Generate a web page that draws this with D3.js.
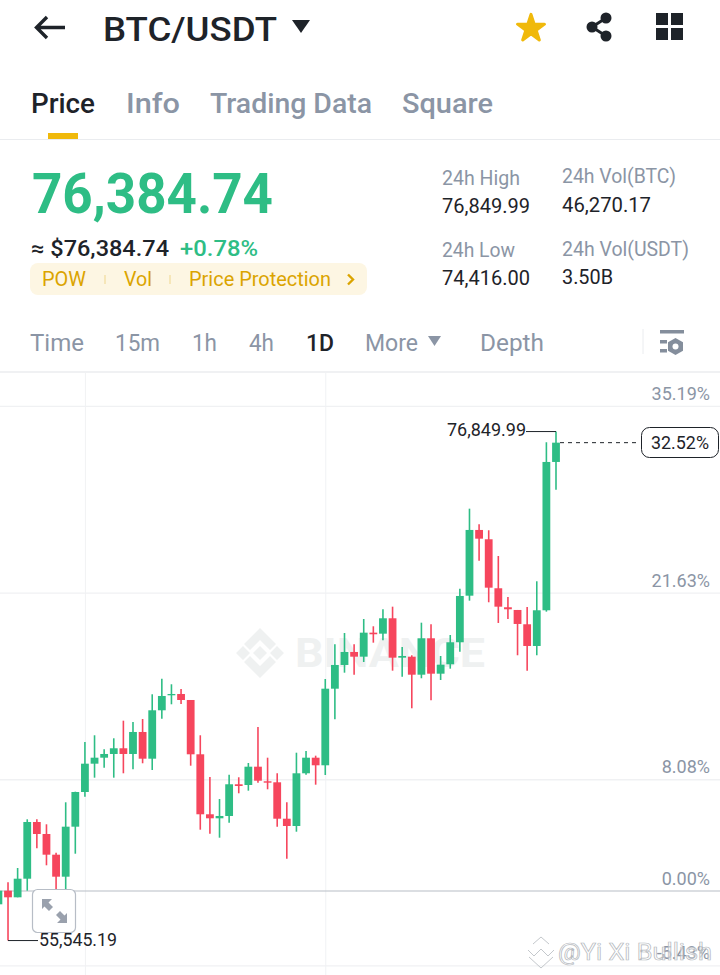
<!DOCTYPE html>
<html>
<head>
<meta charset="utf-8">
<script src="https://cdn.jsdelivr.net/npm/d3@7"></script>
<style>
  html, body { margin: 0; padding: 0; background: #fff; overflow: hidden; }
  svg { display: block; font-family: Roboto, "Noto Sans", sans-serif; }
</style>
</head>
<body>
<svg id="chart" width="720" height="975"></svg>
<script>
// --- DATA ---
const basePrice = 57640;
const lowLabel = 55545.19;
const highLabel = 76849.99;
const lastPrice = 76384.74;
const pctTicks = [35.19, 21.63, 8.08, 0, -5.43];
const gridCandles = [9, 34];

const opens = [57062, 57632, 57355, 58134, 60507, 60005, 59139, 58218, 60311, 61763,
  62948, 63199, 63354, 63593, 63354, 64275, 63157, 65183, 65811, 65865,
  65614, 63341, 60830, 60662, 60759, 62086, 62056, 62822, 62211, 62169,
  60645, 60340, 62546, 63199, 62881, 66087, 67080, 67624, 67427, 68432,
  68390, 69034, 67385, 67427, 66673, 68197, 66715, 67109, 68030, 69980,
  72731, 72341, 70290, 69495, 69382, 68783, 67875, 69369, 75577];
const highs = [57660, 57983, 58582, 60620, 60620, 60411, 59222, 61332, 61776, 63856,
  64137, 63551, 64011, 64748, 64693, 64819, 65853, 66506, 66272, 66075,
  65614, 64137, 62391, 61470, 62487, 62379, 62977, 64484, 63199, 62546,
  61332, 63408, 63479, 63283, 66493, 67946, 68419, 67946, 69005, 68699,
  69411, 69520, 67833, 67486, 68850, 68783, 67456, 68335, 70273, 73622,
  72969, 72718, 71642, 69926, 69382, 69507, 70583, 76402, 76849.99];
const lows = [57040, 55545.19, 57355, 57632, 59406, 58695, 57660, 57660, 59180, 61567,
  62362, 62780, 62362, 62546, 62713, 62965, 62684, 64832, 65434, 65447,
  62864, 60185, 60018, 59850, 60478, 61709, 61818, 62153, 61876, 60311,
  58971, 60101, 62487, 62069, 62475, 64806, 66757, 66673, 67205, 68013,
  68113, 66841, 66590, 65267, 66523, 65602, 66451, 66925, 67636, 69771,
  71446, 69704, 68838, 69005, 67486, 66841, 67486, 69311, 74416];
const closes = [57632, 57355, 58134, 60507, 60005, 59139, 58218, 60311, 61763, 62948,
  63199, 63354, 63593, 63354, 64275, 63157, 65183, 65782, 65865, 65614,
  63341, 60830, 60662, 60759, 62086, 62014, 62822, 62236, 62153, 60645,
  60340, 62546, 63199, 62881, 66087, 67080, 67624, 67427, 68432, 68365,
  69034, 67385, 67456, 66673, 68197, 66715, 67092, 68030, 69968, 72731,
  72366, 70315, 69520, 69411, 68796, 67875, 69369, 75577, lastPrice];

const GREEN = "#2ebd85";
const RED = "#f6465d";
const DARK = "#1e2329";
const GREY = "#8b95a5";
const GOLD = "#dba400";

const svg = d3.select("#chart");

function label(str, x, y, size, fill, width, weight, anchor) {
  const t = svg.append("text")
    .attr("x", x).attr("y", y)
    .attr("font-size", size).attr("fill", fill)
    .attr("font-weight", weight || 400)
    .attr("text-anchor", anchor || "start")
    .text(str);
  if (width) t.attr("textLength", width).attr("lengthAdjust", "spacingAndGlyphs");
  return t;
}

// --- CHART ---
const x = d3.scaleLinear().domain([0, opens.length - 1]).range([-1.6, 556]);
const y = d3.scaleLinear().domain([0, 35.19]).range([890.5, 405.9]);
const toPct = p => (p / basePrice - 1) * 100;
const yPrice = p => y(toPct(p));

// grid
svg.append("g")
  .attr("transform", "translate(0,975)")
  .call(d3.axisBottom(x).tickValues(gridCandles).tickSize(-602).tickFormat(""))
  .call(g => g.select(".domain").remove())
  .call(g => g.selectAll("line").attr("stroke", "#f1f2f4").attr("stroke-width", 1));

svg.append("g")
  .call(d3.axisRight(y).tickValues(pctTicks).tickSize(720).tickFormat(d => d.toFixed(2) + "%"))
  .call(g => g.select(".domain").remove())
  .call(g => g.selectAll("line")
    .attr("stroke", d => d === 0 ? "#b7bdc6" : "#f0f1f3")
    .attr("stroke-width", d => d === 0 ? 1.2 : 1.3))
  .call(g => g.selectAll("text")
    .attr("x", 710).attr("dy", -6.5)
    .attr("text-anchor", "end")
    .attr("fill", GREY)
    .attr("font-size", 18)
    .attr("font-family", 'Roboto, "Noto Sans", sans-serif'));

// watermark
const wm = svg.append("g").attr("fill", "#eff1f1").attr("transform", "translate(260,653)");
const logo = d3.line();
const pieces = [
  [[0, -7], [7, 0], [0, 7], [-7, 0]],
  [[-17, 0], [-24, 0], [-17, -7], [-10, 0], [-17, 7], [-24, 0]],
  [[17, 0], [24, 0], [17, -7], [10, 0], [17, 7], [24, 0]],
  [[0, -25], [16, -9], [10, -3], [0, -13], [-10, -3], [-16, -9]],
  [[0, 25], [16, 9], [10, 3], [0, 13], [-10, 3], [-16, 9]]
];
wm.selectAll("path").data(pieces).join("path").attr("d", d => logo(d) + "Z");
label("BINANCE", 295, 667, 40, "#eff1f1", 190, 700);

// candles
const candles = svg.append("g");
const idx = d3.range(opens.length);
candles.selectAll("line").data(idx).join("line")
  .attr("x1", i => x(i)).attr("x2", i => x(i))
  .attr("y1", i => yPrice(highs[i])).attr("y2", i => yPrice(lows[i]))
  .attr("stroke", i => closes[i] >= opens[i] ? GREEN : RED)
  .attr("stroke-width", 1.6);
candles.selectAll("rect").data(idx).join("rect")
  .attr("x", i => x(i) - 3.9).attr("width", 7.8)
  .attr("y", i => Math.min(yPrice(opens[i]), yPrice(closes[i])))
  .attr("height", i => Math.max(1.3, Math.abs(yPrice(opens[i]) - yPrice(closes[i]))))
  .attr("fill", i => closes[i] >= opens[i] ? GREEN : RED);

// high / low / last markers
const last = opens.length - 1;
svg.append("path").attr("fill", "none").attr("stroke", DARK).attr("stroke-width", 1)
  .attr("d", `M${x(last)},${yPrice(highLabel)}H526`);
svg.append("path").attr("fill", "none").attr("stroke", DARK).attr("stroke-width", 1)
  .attr("d", `M${x(1)},${yPrice(lowLabel)}H38`);
label(d3.format(",.2f")(highLabel), 447, 435.5, 18, DARK, 79);
label(d3.format(",.2f")(lowLabel), 39, 946, 18, DARK, 78);

svg.append("line").attr("x1", 560).attr("x2", 640)
  .attr("y1", yPrice(lastPrice)).attr("y2", yPrice(lastPrice))
  .attr("stroke", DARK).attr("stroke-dasharray", "4 4");
svg.append("rect").attr("x", 641.5).attr("y", 427.5).attr("width", 77).attr("height", 30).attr("rx", 8)
  .attr("fill", "#fff").attr("stroke", DARK);
label(toPct(lastPrice).toFixed(2) + "%", 680, 449, 18, DARK, 58, 400, "middle");

// expand button
const btn = svg.append("g");
btn.append("rect").attr("x", 32.5).attr("y", 889.5).attr("width", 43).attr("height", 43).attr("rx", 5)
  .attr("fill", "#fff").attr("stroke", "#b7bdc6").attr("stroke-width", 1.2);
btn.append("path").attr("fill", "#9aa1ad")
  .attr("d", "M42,899H52L48.5,902.5L53,907L49,911L44.5,906.5L42,909ZM67,923H57L60.5,919.5L56,915L60,911L64.5,915.5L67,913Z");

// --- HEADER ---
svg.append("path").attr("fill", "none").attr("stroke", DARK).attr("stroke-width", 3.4)
  .attr("d", "M65,27.5H38M47,17L36.5,27.5L47,38");
label("BTC/USDT", 103, 41, 33, DARK, 174, 500);
svg.append("path").attr("fill", DARK).attr("d", "M292,20H310L301,33Z");

svg.append("path").attr("d", d3.symbol().type(d3.symbolStar).size(225)())
  .attr("transform", "translate(531,28.5)")
  .attr("fill", "#f0b90b").attr("stroke", "#f0b90b").attr("stroke-width", 3).attr("stroke-linejoin", "round");

const share = svg.append("g").attr("fill", DARK).attr("stroke", DARK);
share.append("path").attr("fill", "none").attr("stroke-width", 3).attr("d", "M606,18L592,27L606,36");
[[606, 18], [592, 27], [606, 36]].forEach(c => share.append("circle").attr("cx", c[0]).attr("cy", c[1]).attr("r", 5.5).attr("stroke", "none"));

[[656, 13], [671, 13], [656, 28], [671, 28]].forEach(c => {
  svg.append("rect").attr("x", c[0]).attr("y", c[1]).attr("width", 12).attr("height", 12).attr("fill", DARK);
});

label("Price", 31, 113, 28, DARK, 64, 500);
label("Info", 126, 113, 28, GREY, 54, 500);
label("Trading Data", 210, 113, 28, GREY, 162, 500);
label("Square", 402, 113, 28, GREY, 91, 500);
svg.append("rect").attr("x", 48).attr("y", 133).attr("width", 30).attr("height", 6).attr("fill", "#f0b90b");
svg.append("line").attr("x1", 0).attr("x2", 720).attr("y1", 139.5).attr("y2", 139.5).attr("stroke", "#eaecef");

// price block
label("76,384.74", 32, 213, 55, GREEN, 241, 700);
label("≈ $76,384.74", 31, 256, 22, DARK, 138, 500);
label("+0.78%", 180, 256, 22, GREEN, 78, 500);
svg.append("rect").attr("x", 30).attr("y", 263).attr("width", 337).attr("height", 32).attr("rx", 8).attr("fill", "#fdf6e3");
label("POW", 42, 286, 20, GOLD, 44);
label("Vol", 124, 286, 20, GOLD, 28);
label("Price Protection", 189, 286, 20, GOLD, 142);
svg.append("path").attr("fill", "none").attr("stroke", GOLD).attr("stroke-width", 2.4)
  .attr("d", "M348,274.5L353,279.5L348,284.5");
[105, 170].forEach(px => svg.append("line").attr("x1", px).attr("x2", px).attr("y1", 275).attr("y2", 284)
  .attr("stroke", "#f6e6b8").attr("stroke-width", 2));

label("24h High", 442, 185, 20, GREY, 78);
label("76,849.99", 442, 213, 20, DARK, 88);
label("24h Low", 442, 257, 20, GREY, 73);
label("74,416.00", 442, 285, 20, DARK, 88);
label("24h Vol(BTC)", 562, 183, 20, GREY, 114);
label("46,270.17", 562, 212, 20, DARK, 89);
label("24h Vol(USDT)", 562, 256, 20, GREY, 127);
label("3.50B", 562, 284, 20, DARK, 51);

// timeframes
label("Time", 30, 351, 24, GREY, 54);
label("15m", 115, 351, 24, GREY, 45);
label("1h", 192, 351, 24, GREY, 25);
label("4h", 249, 351, 24, GREY, 25);
label("1D", 306, 351, 24, DARK, 28, 500);
label("More", 365, 351, 24, GREY, 53);
svg.append("path").attr("fill", GREY).attr("d", "M428,336H441L434.5,346Z");
label("Depth", 480, 351, 24, GREY, 64);
svg.append("line").attr("x1", 643).attr("x2", 643).attr("y1", 329).attr("y2", 354).attr("stroke", "#eaecef");
const gear = svg.append("g").attr("fill", "#848e9c");
gear.append("rect").attr("x", 660).attr("y", 330).attr("width", 24).attr("height", 3.5);
gear.append("rect").attr("x", 660).attr("y", 340).attr("width", 7).attr("height", 3.5);
gear.append("rect").attr("x", 660).attr("y", 349).attr("width", 7).attr("height", 3.5);
gear.append("path").attr("d", "M675.5,338L683,342.2V350.8L675.5,355L668,350.8V342.2Z");
gear.append("circle").attr("cx", 675.5).attr("cy", 346.5).attr("r", 3).attr("fill", "#fff");
svg.append("line").attr("x1", 0).attr("x2", 720).attr("y1", 372).attr("y2", 372).attr("stroke", "#f0f1f3").attr("stroke-width", 2);

// repost watermark, sits on top of the axis label
const mark = svg.append("g").attr("fill", "none").attr("stroke", "#c4c8cc").attr("stroke-width", 1);
mark.append("path").attr("d", "M528,950L534,956L541,949L548,956L554,950M533,944L541,937L549,944M529,957L541,968L553,957");
label("@Yi Xi Bullish", 558, 960, 23, "#ffffff", 154, 400)
  .attr("stroke", "#b4b8bd").attr("stroke-width", 0.7).attr("fill-opacity", 0.55);
</script>
</body>
</html>
